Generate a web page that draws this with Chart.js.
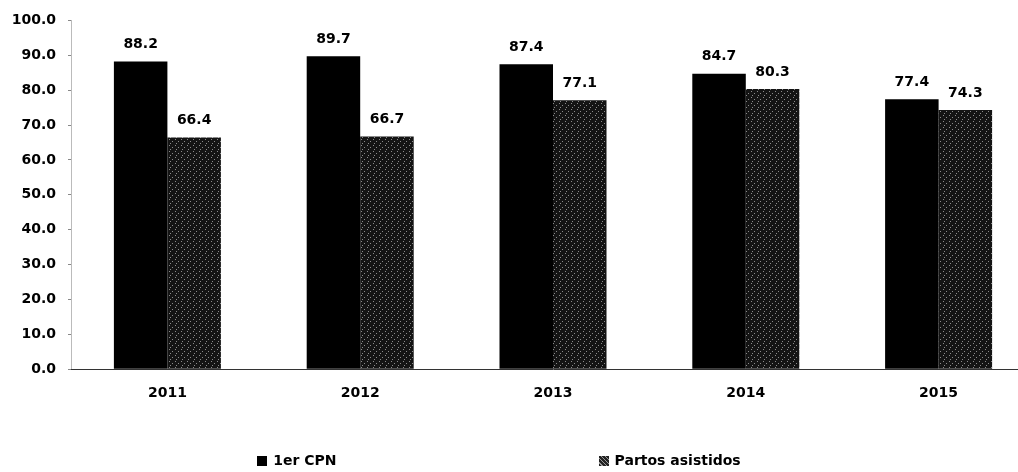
<!DOCTYPE html>
<html>
<head>
<meta charset="utf-8">
<script src="https://cdn.jsdelivr.net/npm/chart.js@4/dist/chart.umd.min.js"></script>
<style>
    html, body {
        margin: 0;
        padding: 0;
        background: #fff;
        overflow: hidden;
        width: 1018px;
        height: 472px;
    }
    #wrap {
        position: relative;
        width: 1040px;
        height: 472px;
    }
    #legend {
        position: absolute;
        top: 452px;
        left: -10px;
        width: 1018px;
        display: flex;
        justify-content: center;
        gap: 262px;
        font: bold 14px "DejaVu Sans", sans-serif;
        color: #000;
    }
    #legend span.box {
        display: inline-block;
        width: 10px;
        height: 10px;
        margin-right: 6px;
        vertical-align: -1px;
    }
</style>
</head>
<body>
<div id="wrap">
    <canvas id="chart" width="1040" height="472"></canvas>
    <div id="legend"></div>
</div>
<script>
// Data
const years = ['2011', '2012', '2013', '2014', '2015'];
const primerCPN = [88.2, 89.7, 87.4, 84.7, 77.4];
const partosAsistidos = [66.4, 66.7, 77.1, 80.3, 74.3];
const yTicks = [0, 10, 20, 30, 40, 50, 60, 70, 80, 90, 100];

const fontFamily = '"DejaVu Sans", sans-serif';

// Speckled fill for the second series
function makePattern() {
    const p = document.createElement('canvas');
    p.width = 6;
    p.height = 6;
    const c = p.getContext('2d');
    c.fillStyle = '#141414';
    c.fillRect(0, 0, 6, 6);
    c.fillStyle = '#8a8a8a';
    c.fillRect(1, 1, 1, 1);
    c.fillRect(4, 3, 1, 1);
    c.fillRect(2, 5, 1, 1);
    return document.getElementById('chart').getContext('2d').createPattern(p, 'repeat');
}
const speckle = makePattern();

// Value labels above bars
const valueLabels = {
    id: 'valueLabels',
    afterDatasetsDraw(chart) {
        const ctx = chart.ctx;
        ctx.save();
        ctx.font = 'bold 14px ' + fontFamily;
        ctx.fillStyle = '#000';
        ctx.textAlign = 'center';
        ctx.textBaseline = 'bottom';
        chart.data.datasets.forEach((ds, i) => {
            chart.getDatasetMeta(i).data.forEach((bar, j) => {
                ctx.fillText(ds.data[j].toFixed(1), bar.x, bar.y - 10);
            });
        });
        ctx.restore();
    }
};

const ctx = document.getElementById('chart').getContext('2d');
const chart = new Chart(ctx, {
    type: 'bar',
    data: {
        labels: years,
        datasets: [
            {
                label: '1er CPN',
                data: primerCPN,
                backgroundColor: '#000',
                barPercentage: 1,
                categoryPercentage: 0.555
            },
            {
                label: 'Partos asistidos',
                data: partosAsistidos,
                backgroundColor: speckle,
                barPercentage: 1,
                categoryPercentage: 0.555
            }
        ]
    },
    options: {
        responsive: false,
        animation: false,
        layout: {
            padding: { top: 11, right: 5, bottom: 62, left: 0 }
        },
        plugins: {
            legend: { display: false },
            tooltip: { enabled: false }
        },
        scales: {
            y: {
                min: 0,
                max: 100,
                afterFit: (s) => { s.width = 71; },
                afterBuildTicks: (s) => { s.ticks = yTicks.map(v => ({ value: v })); },
                grid: {
                    drawOnChartArea: false,
                    drawTicks: true,
                    tickLength: 3,
                    color: '#888'
                },
                border: {
                    color: '#bbb',
                    dash: [1, 4]
                },
                ticks: {
                    padding: 12,
                    color: '#000',
                    font: { family: fontFamily, size: 14, weight: 'bold' },
                    callback: (v) => Number(v).toFixed(1)
                }
            },
            x: {
                grid: { display: false },
                border: {
                    color: '#333',
                    dash: [2, 2]
                },
                ticks: {
                    padding: 8,
                    color: '#000',
                    font: { family: fontFamily, size: 14, weight: 'bold' }
                }
            }
        }
    },
    plugins: [valueLabels]
});

// HTML legend
const legend = document.getElementById('legend');
chart.data.datasets.forEach((ds, i) => {
    const item = document.createElement('div');
    const box = document.createElement('span');
    box.className = 'box';
    box.style.background = i === 0 ? '#000' : 'repeating-linear-gradient(45deg, #222 0 2px, #999 2px 3px)';
    item.appendChild(box);
    item.appendChild(document.createTextNode(ds.label));
    legend.appendChild(item);
});
</script>
</body>
</html>
